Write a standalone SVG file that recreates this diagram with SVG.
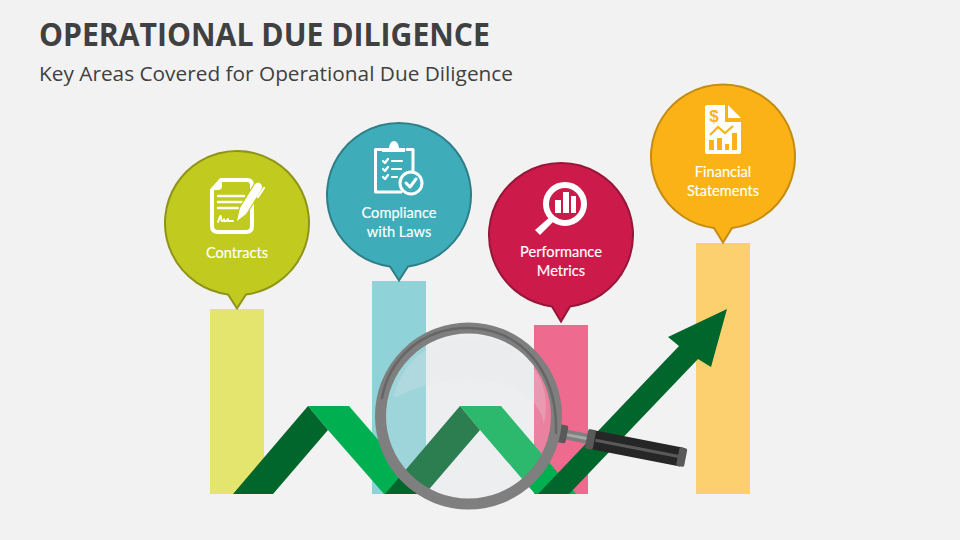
<svg xmlns="http://www.w3.org/2000/svg" width="960" height="540" viewBox="0 0 960 540">
<style>
.lbl{font-family:"Lato","Carlito","Liberation Sans",sans-serif;font-size:14.6px;fill:#fff;stroke:#fff;stroke-width:.15px;text-anchor:middle;font-weight:400}
.ttl{font-family:"Open Sans","Liberation Sans",sans-serif;fill:#404040}
.w{fill:none;stroke:#fff;stroke-linecap:round;stroke-linejoin:round}
.bubble{stroke-width:2}
</style>
<rect width="960" height="540" fill="#f2f2f2"/>
<text class="ttl" x="39" y="46" font-size="32.600" font-weight="700" textLength="451" lengthAdjust="spacingAndGlyphs">OPERATIONAL DUE DILIGENCE</text>
<text class="ttl" x="39" y="81" font-size="20.600" textLength="474" lengthAdjust="spacingAndGlyphs">Key Areas Covered for Operational Due Diligence</text>
<g id="bars">
<rect x="210" y="309" width="54" height="185" fill="#e3e56f"/>
<rect x="372" y="281" width="54" height="213" fill="#8fd3d9"/>
<rect x="534" y="325" width="54" height="169" fill="#ee6a8f"/>
<rect x="696" y="243" width="54" height="251" fill="#fcd06f"/>
</g>
<g id="connectors">
<polygon points="308,406 349,406 425,494 384,494 328,430" fill="#00b050"/>
<polygon points="233,494 308,406 328,430 273,494" fill="#00662c"/>
<polygon points="460,406 501,406 576,494 535,494 480,430" fill="#00b050"/>
<polygon points="385,494 460,406 480,430 425,494" fill="#00662c"/>
<polygon points="538,494 679,346 668,337 727,309 711,367 698,359 569,494" fill="#00662c"/>
</g>
<g id="magnifier">
<g transform="translate(563,434) rotate(11)">
<rect x="2" y="-5" width="26" height="10" fill="#7f7f7f"/>
<rect x="2" y="-1.500" width="26" height="3" fill="#a6a6a6"/>
<rect x="-5" y="-9" width="9" height="18" rx="2" fill="#595959"/>
<rect x="27" y="-9.500" width="94" height="19" fill="#262626"/>
<rect x="33" y="-1.500" width="85" height="3" fill="#595959"/>
<rect x="24" y="-10" width="8" height="20" rx="2" fill="#595959"/>
<rect x="117" y="-9.500" width="8" height="19" rx="2" fill="#595959"/>
</g>
<circle cx="468.500" cy="416" r="83" fill="#dcdfe6" fill-opacity="0.2"/>
<path d="M394,397 C402,358 436,337 468,337 C510,337 546,366 546,405 C546,411 545,418 544,424 C540,400 515,380 468,380 C440,380 418,386 397,397 Z" fill="#e4e6ec" fill-opacity="0.25"/>
<circle cx="468.500" cy="416" r="88" fill="none" stroke="#7f7f7f" stroke-width="11"/>
<path d="M382,398 C389,360 420,328 468,328 C518,328 558,368 556,433" fill="none" stroke="#666" stroke-width="2.500" stroke-linecap="round"/>
</g>
<g id="node-contracts">
<path class="bubble" d="M228,294.400 A72,72 0 1 1 246,294.400 L237,308.500 Z" fill="#c1ca1f" stroke="#8e9417"/>
<path class="w" stroke-width="4" d="M221,180 H247 Q252,180 252,185 V226 Q252,232 246,232 H218 Q212,232 212,226 V190 Z"/>
<path d="M212,190 H218 Q222,190 222,186 V180 Z" fill="#fff"/>
<path class="w" stroke-width="2.400" d="M218,196 H244 M218,202 H242 M218,208 H238"/>
<path class="w" stroke-width="1.800" d="M218,222 C220,216 221,214 221,218 C221,222 223,222 224,219 V221 C226,222 227,220 228,219 V221 H233"/>
<path d="M237,221 L240,208 L255,184 Q258,181 261,184 Q263,187 261,190 L246,214 Z" fill="#fff" stroke="#c1ca1f" stroke-width="2.500" paint-order="stroke"/>
<path class="w" stroke-width="2.200" d="M258,197 L264,188"/>
<text class="lbl" x="237" y="258">Contracts</text>
</g>
<g id="node-compliance">
<path class="bubble" d="M390,266.400 A72,72 0 1 1 408,266.400 L399,280.500 Z" fill="#3fadb9" stroke="#2e7f88"/>
<path class="w" stroke-width="3" d="M381,149.500 H375.500 V192 H401 M413,149.500 V172 M407,149.500 H413"/>
<path d="M382,152 V148 H389 Q390,141 394,141 Q398,141 399,148 H405 V152 Z" fill="#fff"/>
<path class="w" stroke-width="2.200" d="M383,161 L385,163 L388,159 M383,169 L385,171 L388,167 M383,177 L385,179 L388,175 M392,161 H402 M392,169 H401 M392,177 H397"/>
<circle cx="411" cy="183" r="11" fill="#3fadb9" stroke="#fff" stroke-width="3"/>
<path class="w" stroke-width="3" d="M406,183 L410,187 L416,179"/>
<text class="lbl" x="399" y="218">Compliance</text>
<text class="lbl" x="399" y="237">with Laws</text>
</g>
<g id="node-performance">
<path class="bubble" d="M552,306.400 A72,72 0 1 1 570,306.400 L561,321.500 Z" fill="#cc1b4b" stroke="#961637"/>
<circle cx="565" cy="204" r="19" fill="none" stroke="#fff" stroke-width="6"/>
<path d="M551,216 L555,220 L540,235 L535,230 Z" fill="#fff"/>
<path d="M555,200 H561 V213 H555 Z M563,192 H569 V213 H563 Z M571,196 H576 V213 H571 Z" fill="#fff"/>
<text class="lbl" x="561" y="257">Performance</text>
<text class="lbl" x="561" y="276">Metrics</text>
</g>
<g id="node-financial">
<path class="bubble" d="M714,228 A72,72 0 1 1 732,228 L723,242.500 Z" fill="#fbb216" stroke="#c48c10"/>
<path d="M707,105 H725 V122 H741 V152 Q741,154 739,154 H707 Q705,154 705,152 V107 Q705,105 707,105 Z M728,105 L741,118 H728 Z" fill="#fff"/>
<text x="714" y="122" font-family="Liberation Sans,sans-serif" font-size="17" font-weight="700" fill="#fbb216" text-anchor="middle">$</text>
<path d="M710,135 L718,127 L725,133 L733,126" fill="none" stroke="#fbb216" stroke-width="2.200"/>
<path d="M709,140 H714 V150 H709 Z M717,138 H722 V150 H717 Z M725,144 H729 V150 H725 Z M732,133 H737 V150 H732 Z" fill="#fbb216"/>
<text class="lbl" x="723" y="177">Financial</text>
<text class="lbl" x="723" y="196">Statements</text>
</g>
</svg>
